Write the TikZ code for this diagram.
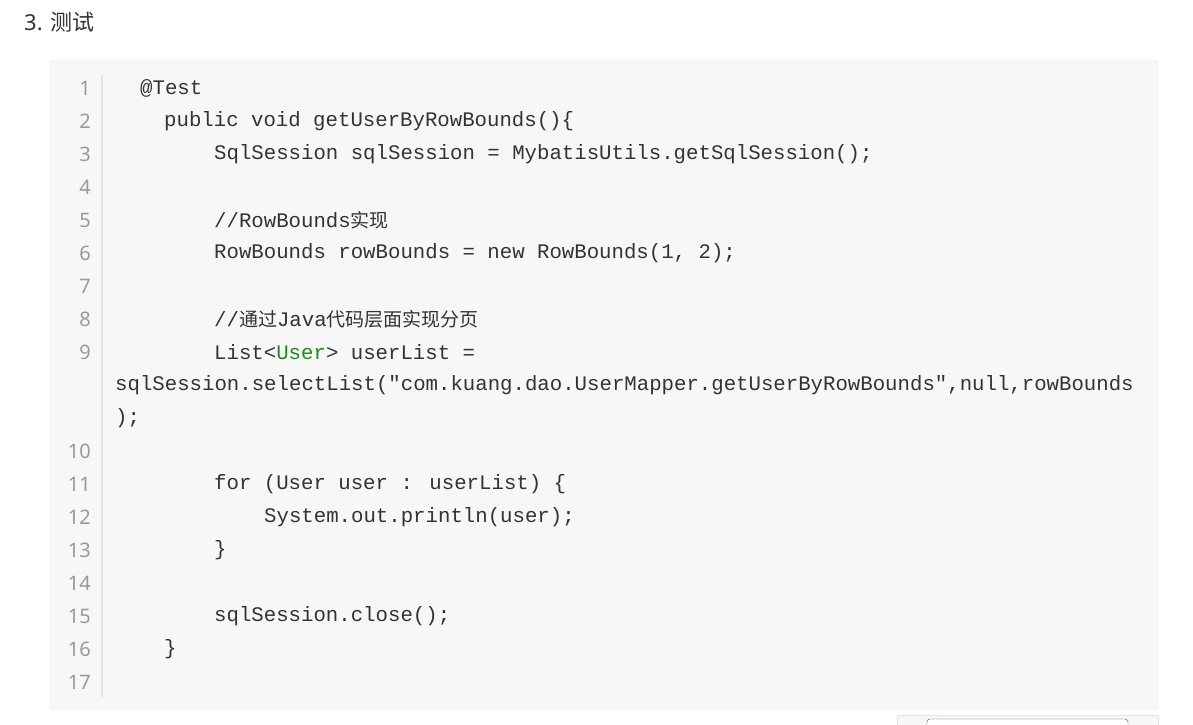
\documentclass[tikz,border=0pt]{standalone}
\usepackage{fontspec}
\setmainfont{Noto Sans}
\newfontfamily\cjk{Noto Sans CJK SC}
\newfontfamily\cmono{Liberation Mono}
\definecolor{bg}{HTML}{F7F7F7}
\definecolor{bd}{HTML}{E4E4E4}
\definecolor{num}{HTML}{999999}
\definecolor{code}{HTML}{333333}
\definecolor{grn}{HTML}{1C8C1C}
\begin{document}
\begin{tikzpicture}[x=1pt,y=-1pt,
  ln/.style={anchor=east,text=num,inner sep=0,font=\fontsize{20}{20}\selectfont},
  cd/.style={anchor=west,text=code,inner sep=0,font=\cmono\fontsize{20.7}{20.7}\selectfont}]
\useasboundingbox (0,0) rectangle (1193,724);
\fill[white] (0,0) rectangle (1193,724);
\node[anchor=west,inner sep=0,text=code,font=\fontsize{22}{22}\selectfont] (h) at (24,22) {3. {\cjk 测试}};
\draw[bd,fill=bg,rounded corners=3] (50,60) rectangle (1158,709);
\draw[bd,fill=bg] (897,715) rectangle (1158,730);
\draw[draw=blue!40!gray,fill=white,rounded corners=3] (927,719) rectangle (1128,740);
\draw[draw=bd,line width=1.2] (102,75) -- (102,697);
\foreach \i in {1,...,9} {\node[ln] (n\i) at (91,{88+33*(\i-1)}) {\i};}
\foreach \i in {10,...,17} {\node[ln] (n\i) at (91,{88+33*(\i+1)}) {\i};}
\node[cd] (c1) at (140,88) {@Test};
\node[cd] (c2) at (164,121) {public void getUserByRowBounds()\{};
\node[cd] (c3) at (214,154) {SqlSession sqlSession = MybatisUtils.getSqlSession();};
\node[cd] (c5) at (214,220) {//RowBounds{\cjk\fontsize{19}{19}\selectfont 实现}};
\node[cd] (c6) at (214,253) {RowBounds rowBounds = new RowBounds(1, 2);};
\node[cd] (c8) at (214,319) {//{\cjk\fontsize{19}{19}\selectfont 通过}Java{\cjk\fontsize{19}{19}\selectfont 代码层面实现分页}};
\node[cd] (c9) at (214,352) {List<{\color{grn}User}> userList =};
\node[cd] (c9b) at (115,385) {sqlSession.selectList("com.kuang.dao.UserMapper.getUserByRowBounds",null,rowBounds};
\node[cd] (c9c) at (115,418) {);};
\node[cd] (c11) at (214,484) {for (User user : userList) \{};
\node[cd] (c12) at (264,517) {System.out.println(user);};
\node[cd] (c13) at (214,550) {\}};
\node[cd] (c15) at (214,616) {sqlSession.close();};
\node[cd] (c16) at (164,649) {\}};
\end{tikzpicture}
\end{document}
